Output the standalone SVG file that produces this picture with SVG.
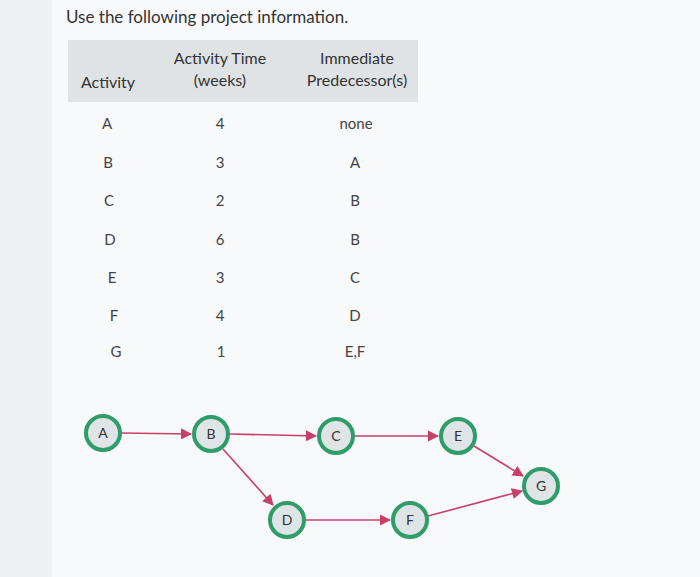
<svg xmlns="http://www.w3.org/2000/svg" width="700" height="577" viewBox="0 0 700 577">
<defs>
<style>
text{font-family:Lato,"Liberation Sans",sans-serif;fill:#333}
.h{font-size:16px;text-anchor:middle}
.c{font-size:15px;text-anchor:middle;fill:#444}
.n circle{fill:#dfe4e6;stroke:#2f9d6a;stroke-width:4}
.n text{font-size:14px;text-anchor:middle;fill:#333}
.e{stroke:#c8406a;stroke-width:1.6;fill:none;marker-end:url(#ar)}
</style>
<marker id="ar" viewBox="0 0 10 10" refX="9" refY="5" markerWidth="7" markerHeight="7" orient="auto"><path d="M0,0L10,5L0,10z" fill="#c8406a"/></marker>
</defs>
<rect width="700" height="577" fill="#eef1f3"/>
<rect x="52" y="0" width="648" height="577" fill="#f7f9fa"/>
<text x="66" y="23" font-size="17">Use the following project information.</text>
<rect x="68" y="40" width="350" height="62" fill="#dfe3e6"/>
<text class="h" x="108" y="88">Activity</text>
<text class="h" x="220" y="64">Activity Time</text>
<text class="h" x="220" y="86">(weeks)</text>
<text class="h" x="357" y="64">Immediate</text>
<text class="h" x="357" y="86">Predecessor(s)</text>
<g>
<text class="c" x="107" y="129">A</text><text class="c" x="220" y="129">4</text><text class="c" x="356" y="129">none</text>
<text class="c" x="108" y="168">B</text><text class="c" x="220" y="168">3</text><text class="c" x="355" y="168">A</text>
<text class="c" x="109" y="206">C</text><text class="c" x="220" y="206">2</text><text class="c" x="355" y="206">B</text>
<text class="c" x="110" y="245">D</text><text class="c" x="220" y="245">6</text><text class="c" x="355" y="245">B</text>
<text class="c" x="112" y="283">E</text><text class="c" x="220" y="283">3</text><text class="c" x="355" y="283">C</text>
<text class="c" x="114" y="321">F</text><text class="c" x="220" y="321">4</text><text class="c" x="355" y="321">D</text>
<text class="c" x="116" y="357">G</text><text class="c" x="221" y="357">1</text><text class="c" x="355" y="357">E,F</text>
</g>
<g id="connectors">
<line class="e" x1="121" y1="433" x2="191" y2="434"/>
<line class="e" x1="229" y1="434" x2="316" y2="436"/>
<line class="e" x1="354" y1="436" x2="438" y2="436"/>
<line class="e" x1="474" y1="446" x2="523" y2="476"/>
<line class="e" x1="223" y1="449" x2="273" y2="505"/>
<line class="e" x1="305" y1="520" x2="390" y2="520"/>
<line class="e" x1="428" y1="516" x2="522" y2="491"/>
</g>
<g id="A" class="n"><circle cx="103" cy="433" r="17"/><text x="103" y="438">A</text></g>
<g id="B" class="n"><circle cx="211" cy="434" r="17"/><text x="211" y="439">B</text></g>
<g id="C" class="n"><circle cx="336" cy="436" r="17"/><text x="336" y="441">C</text></g>
<g id="E" class="n"><circle cx="458" cy="436" r="17"/><text x="458" y="441">E</text></g>
<g id="G" class="n"><circle cx="541" cy="486" r="17"/><text x="541" y="491">G</text></g>
<g id="D" class="n"><circle cx="287" cy="520" r="17"/><text x="287" y="525">D</text></g>
<g id="F" class="n"><circle cx="410" cy="520" r="17"/><text x="410" y="525">F</text></g>
</svg>
